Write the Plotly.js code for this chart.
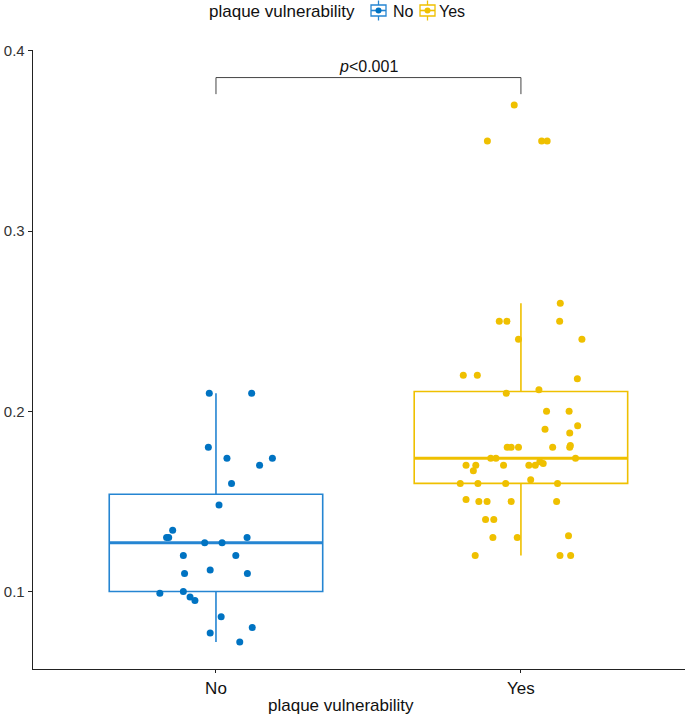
<!DOCTYPE html>
<html>
<head>
<meta charset="utf-8">
<script src="https://cdn.plot.ly/plotly-3.0.1.min.js"></script>
<style>
  html, body { margin: 0; padding: 0; background: #fff; }
  #chart { width: 685px; height: 716px; }
</style>
</head>
<body>
<div id="chart"></div>
<script>
// groups on a numeric x axis: No = 1, Yes = 2
const categories = ["No", "Yes"];
const catPos = [1, 2];

// values, with the jitter offsets of each dot
const noValues = [0.21, 0.21, 0.180, 0.174, 0.174, 0.170, 0.160, 0.148, 0.134, 0.130,
  0.130, 0.130, 0.127, 0.127, 0.120, 0.120, 0.110, 0.112, 0.110, 0.099,
  0.100, 0.097, 0.095, 0.086, 0.080, 0.077, 0.072];
const noJitter = [-0.022, 0.117, -0.025, 0.036, 0.185, 0.143, 0.051, 0.010, -0.142, -0.162,
  -0.155, 0.102, -0.037, 0.020, -0.107, 0.065, -0.103, -0.019, 0.103, -0.184,
  -0.107, -0.085, -0.069, 0.017, 0.119, -0.019, 0.078];

const yesValues = [0.370, 0.350, 0.350, 0.350,
  0.26, 0.25, 0.25, 0.25, 0.24, 0.24, 0.22, 0.22, 0.218, 0.212,
  0.21, 0.20, 0.20, 0.192, 0.19, 0.188, 0.18, 0.18, 0.18, 0.18,
  0.181, 0.18, 0.174, 0.174, 0.174, 0.170, 0.170, 0.167, 0.170, 0.170,
  0.170, 0.172, 0.171, 0.162, 0.16, 0.16, 0.16, 0.16, 0.151, 0.15,
  0.15, 0.15, 0.15, 0.14, 0.14, 0.13, 0.13, 0.131, 0.12, 0.12, 0.12];
const yesJitter = [-0.022, -0.110, 0.068, 0.086,
  0.129, -0.071, -0.046, 0.127, -0.008, 0.200, -0.189, -0.143, 0.185, 0.059,
  -0.048, 0.084, 0.158, 0.186, 0.079, 0.160, -0.045, -0.032, -0.008, 0.104,
  0.162, 0.160, -0.099, -0.082, 0.179, -0.180, -0.148, -0.156, -0.057, 0.026,
  0.047, 0.062, 0.073, 0.032, -0.199, -0.141, -0.050, 0.120, -0.180, -0.138,
  -0.111, -0.032, 0.117, -0.116, -0.089, -0.092, -0.012, 0.156, -0.150, 0.128, 0.163];

// box statistics as drawn (ggplot style, Tukey whiskers)
const boxQ1 = [0.100, 0.160];
const boxMedian = [0.127, 0.174];
const boxQ3 = [0.154, 0.211];
const boxLower = [0.072, 0.12];
const boxUpper = [0.21, 0.26];

const pointColors = ["#0073C2", "#EFC000"];
const lineColors = ["#2585d2", "#EFC000"];
const boxWidth = 0.7;

// significance bracket
const pText = "<i>p</i>&lt;0.001";
const bracketY = 0.3852;
const bracketFoot = 0.3760;

const legendTitle = "plaque vulnerability";
const xTitle = "plaque vulnerability";

const font = "'Liberation Sans', Arial, sans-serif";

// plot area in pixels, used to place the hand-made legend
const W = 685, H = 716;
const M = { l: 33, r: 0, t: 50, b: 47 };
const pw = W - M.l - M.r, ph = H - M.t - M.b;
const paperX = function (px) { return (px - M.l) / pw; };

const traces = [];
categories.forEach(function (cat, i) {
  traces.push({
    type: "box",
    name: cat,
    x: [catPos[i]],
    q1: [boxQ1[i]],
    median: [boxMedian[i]],
    q3: [boxQ3[i]],
    lowerfence: [boxLower[i]],
    upperfence: [boxUpper[i]],
    width: boxWidth,
    whiskerwidth: 0,
    boxpoints: false,
    fillcolor: "rgba(255,255,255,0)",
    line: { color: lineColors[i], width: 1.6 },
    hoverinfo: "skip"
  });
  // thicker median line on top of the box
  traces.push({
    type: "scatter",
    mode: "lines",
    x: [catPos[i] - boxWidth / 2, catPos[i] + boxWidth / 2],
    y: [boxMedian[i], boxMedian[i]],
    line: { color: lineColors[i], width: 3 },
    hoverinfo: "skip"
  });
});

const groups = [[noValues, noJitter], [yesValues, yesJitter]];
groups.forEach(function (g, i) {
  traces.push({
    type: "scatter",
    mode: "markers",
    x: g[1].map(function (d) { return catPos[i] + d; }),
    y: g[0],
    marker: { color: pointColors[i], size: 7 }
  });
});

// legend keys drawn like ggplot's boxplot glyph (box, whisker, median, dot)
const keyLeft = [371, 420];
const keyText = [391, 437];
const keyY = 10.5;
const shapes = [
  { type: "line", xref: "x", yref: "y", x0: catPos[0], x1: catPos[0], y0: bracketFoot, y1: bracketY, line: { color: "#444", width: 1 } },
  { type: "line", xref: "x", yref: "y", x0: catPos[0], x1: catPos[1], y0: bracketY, y1: bracketY, line: { color: "#444", width: 1 } },
  { type: "line", xref: "x", yref: "y", x0: catPos[1], x1: catPos[1], y0: bracketFoot, y1: bracketY, line: { color: "#444", width: 1 } }
];
const annotations = [
  { xref: "x", yref: "y", x: (catPos[0] + catPos[1]) / 2, y: bracketY, text: pText,
    showarrow: false, yanchor: "bottom", yshift: 1, font: { size: 16, color: "#111" } },
  { xref: "paper", yref: "paper", x: paperX(341), y: 0, yanchor: "top", yshift: -25,
    text: xTitle, showarrow: false, font: { size: 17, color: "#111" } },
  { xref: "paper", yref: "paper", x: paperX(207), xanchor: "left", y: 1, yshift: M.t - keyY - 1,
    yanchor: "middle", text: legendTitle, showarrow: false, font: { size: 17, color: "#111" } }
];
categories.forEach(function (cat, i) {
  const ox = keyLeft[i] - M.l;
  const cy = M.t - keyY;
  const base = { xref: "paper", yref: "paper", xsizemode: "pixel", ysizemode: "pixel",
    xanchor: 0, yanchor: 1 };
  const c = lineColors[i];
  shapes.push(Object.assign({}, base, { type: "line", x0: ox + 7.5, x1: ox + 7.5, y0: cy - 10, y1: cy + 10, line: { color: c, width: 1.3 } }));
  shapes.push(Object.assign({}, base, { type: "rect", x0: ox, x1: ox + 15, y0: cy - 5.5, y1: cy + 5.5, fillcolor: "#fff", line: { color: c, width: 1.3 } }));
  shapes.push(Object.assign({}, base, { type: "line", x0: ox, x1: ox + 15, y0: cy, y1: cy, line: { color: c, width: 1.6 } }));
  shapes.push(Object.assign({}, base, { type: "circle", x0: ox + 4.5, x1: ox + 10.5, y0: cy - 3, y1: cy + 3, fillcolor: pointColors[i], line: { width: 0 } }));
  annotations.push({ xref: "paper", yref: "paper", x: paperX(keyText[i]), xanchor: "left", y: 1,
    yshift: cy - 1, yanchor: "middle", text: cat, showarrow: false, font: { size: 16, color: "#111" } });
});

const layout = {
  width: W,
  height: H,
  margin: M,
  paper_bgcolor: "#fff",
  plot_bgcolor: "#fff",
  font: { family: font, size: 15, color: "#222" },
  showlegend: false,
  xaxis: {
    range: [0.4, 2.538],
    tickvals: catPos,
    ticktext: categories,
    showgrid: false,
    zeroline: false,
    showline: true,
    linecolor: "#222",
    linewidth: 1.3,
    ticks: "outside",
    ticklen: 3,
    tickcolor: "#222",
    tickfont: { size: 17, color: "#111" }
  },
  yaxis: {
    range: [0.057, 0.4005],
    tickvals: [0.1, 0.2, 0.3, 0.4],
    ticktext: ["0.1", "0.2", "0.3", "0.4"],
    showgrid: false,
    zeroline: false,
    showline: true,
    linecolor: "#222",
    linewidth: 1.3,
    ticks: "outside",
    ticklen: 4,
    tickcolor: "#222",
    tickfont: { size: 15, color: "#333" }
  },
  shapes: shapes,
  annotations: annotations
};

Plotly.newPlot("chart", traces, layout, { displayModeBar: false, staticPlot: true });
</script>
</body>
</html>
